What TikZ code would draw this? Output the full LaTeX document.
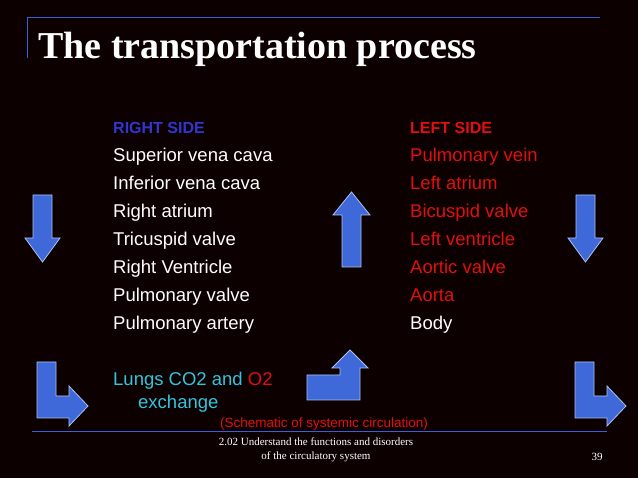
\documentclass[tikz,border=0pt]{standalone}
\usepackage{fontspec}
\setmainfont{Liberation Sans}
\newfontfamily\serifx{Liberation Serif}
\begin{document}
\begin{tikzpicture}[x=1pt,y=-1pt,
  arr/.style={fill=arrblue,draw=arrline,line width=0.8pt},
  body/.style={anchor=base west,text=white,font=\fontsize{18.5}{22}\selectfont,inner sep=0},
  hdr/.style={anchor=base west,inner sep=0,font=\fontsize{16}{18}\selectfont\bfseries}]
\definecolor{arrblue}{HTML}{3F68D8}
\definecolor{arrline}{HTML}{AFC0F0}
\definecolor{lineblue}{HTML}{3A5FD8}
\definecolor{hblue}{HTML}{3434D0}
\definecolor{cyanx}{HTML}{33C4DC}
\definecolor{redx}{HTML}{E01010}
\fill[black!95!red] (0,0) rectangle (638,478);
\useasboundingbox (0,0) rectangle (638,478);
\draw[lineblue,line width=1pt] (27,58) -- (27,18) -- (600,18);
\node[anchor=base west,inner sep=0,text=white,font=\serifx\fontsize{38}{42}\selectfont\bfseries] (title) at (38,59) {The transportation process};
\node[hdr,text=hblue] (rh) at (113,134) {RIGHT SIDE};
\node[hdr,text=redx] (lh) at (410,134) {LEFT SIDE};
\foreach \t [count=\i] in {Superior vena cava,Inferior vena cava,Right atrium,Tricuspid valve,Right Ventricle,Pulmonary valve,Pulmonary artery}
  \node[body] (r\i) at (113,{134+28*\i}) {\t};
\foreach \t [count=\i] in {Pulmonary vein,Left atrium,Bicuspid valve,Left ventricle,Aortic valve,Aorta}
  \node[body,text=redx] (l\i) at (410,{134+28*\i}) {\t};
\node[body] (l7) at (410,330) {Body};
\node[body,text=cyanx] (lungs) at (113,386) {Lungs CO2 and \textcolor{redx}{O2}};
\node[body,text=cyanx] (exch) at (138,409) {exchange};
\node[anchor=base west,inner sep=0,text=redx,font=\fontsize{13.5}{15}\selectfont] (cap) at (220,428) {(Schematic of systemic circulation)};
\draw[lineblue,line width=0.8pt] (32,431) -- (607,431);
\node[align=center,text=white,inner sep=0,font=\serifx\fontsize{11}{14}\selectfont] (foot) at (316,450) {2.02 Understand the functions and disorders\\of the circulatory system};
\node[text=white,inner sep=0,font=\serifx\fontsize{11}{12}\selectfont] (pg) at (597,457) {39};
\draw[arr] (33,195) -- (52,195) -- (52,238) -- (60,238) -- (42.5,262) -- (25,238) -- (33,238) -- cycle;
\draw[arr] (576,195) -- (595,195) -- (595,238) -- (603,238) -- (585.5,262) -- (568,238) -- (576,238) -- cycle;
\draw[arr] (342,267) -- (361,267) -- (361,215) -- (370,215) -- (351.5,192) -- (333,215) -- (342,215) -- cycle;
\draw[arr] (37,362) -- (56,362) -- (56,396) -- (69,396) -- (69,386) -- (88,406) -- (69,426) -- (69,418) -- (37,418) -- cycle;
\draw[arr] (575,362) -- (594,362) -- (594,396) -- (607,396) -- (607,386) -- (626,406) -- (607,426) -- (607,418) -- (575,418) -- cycle;
\draw[arr] (307,375) -- (340,375) -- (340,368) -- (332,368) -- (350,350) -- (368,368) -- (360,368) -- (360,400) -- (307,400) -- cycle;
\end{tikzpicture}
\end{document}
